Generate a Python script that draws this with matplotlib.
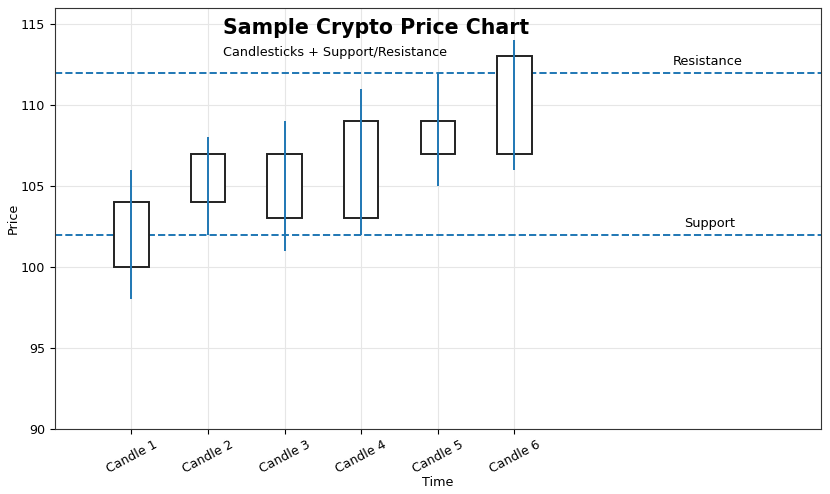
import matplotlib.pyplot as plt
from matplotlib.patches import Rectangle

labels = ["Candle 1", "Candle 2", "Candle 3", "Candle 4", "Candle 5", "Candle 6"]
opens = [100, 104, 103, 103, 107, 107]
closes = [104, 107, 107, 109, 109, 113]
lows = [98, 102, 101, 102, 105, 106]
highs = [106, 108, 109, 111, 112, 114]
support = 102
resistance = 112

plt.rcParams['font.size'] = 9.2

fig = plt.figure(figsize=(8.3, 4.94), dpi=100)
ax = fig.add_axes([0.066, 0.132, 0.923, 0.852])

width = 0.45
for i in range(len(labels)):
    lo = min(opens[i], closes[i])
    h = abs(closes[i] - opens[i])
    ax.add_patch(Rectangle((i - width / 2, lo), width, h, facecolor="white",
                           edgecolor="#222222", linewidth=1.4, zorder=2))
    ax.vlines(i, lows[i], highs[i], color="#1f77b4", linewidth=1.4, zorder=3)

ax.axhline(resistance, color="#1f77b4", linestyle="--", linewidth=1.4, zorder=1)
ax.axhline(support, color="#1f77b4", linestyle="--", linewidth=1.4, zorder=1)
ax.text(7.52, resistance + 0.3, "Resistance", ha="center", va="bottom", fontsize=9.3)
ax.text(7.55, support + 0.3, "Support", ha="center", va="bottom", fontsize=9.3)

ax.text(0.22, 0.976, "Sample Crypto Price Chart", transform=ax.transAxes,
        fontsize=14.8, fontweight="bold", va="top", ha="left")
ax.text(0.22, 0.91, "Candlesticks + Support/Resistance", transform=ax.transAxes,
        fontsize=9.2, va="top", ha="left")

ax.set_xlim(-1, 9)
ax.set_ylim(90, 116)
ax.set_xticks(range(len(labels)))
ax.set_xticklabels(labels, rotation=28, fontsize=9)
ax.tick_params(axis="y", labelsize=9.2)
ax.set_xlabel("Time", labelpad=0)
ax.set_ylabel("Price", labelpad=1)
ax.grid(True, color="#e6e6e6", linewidth=0.8, zorder=0)
ax.set_axisbelow(True)
for s in ax.spines.values():
    s.set_color("#333333")

fig.savefig("out.png")
